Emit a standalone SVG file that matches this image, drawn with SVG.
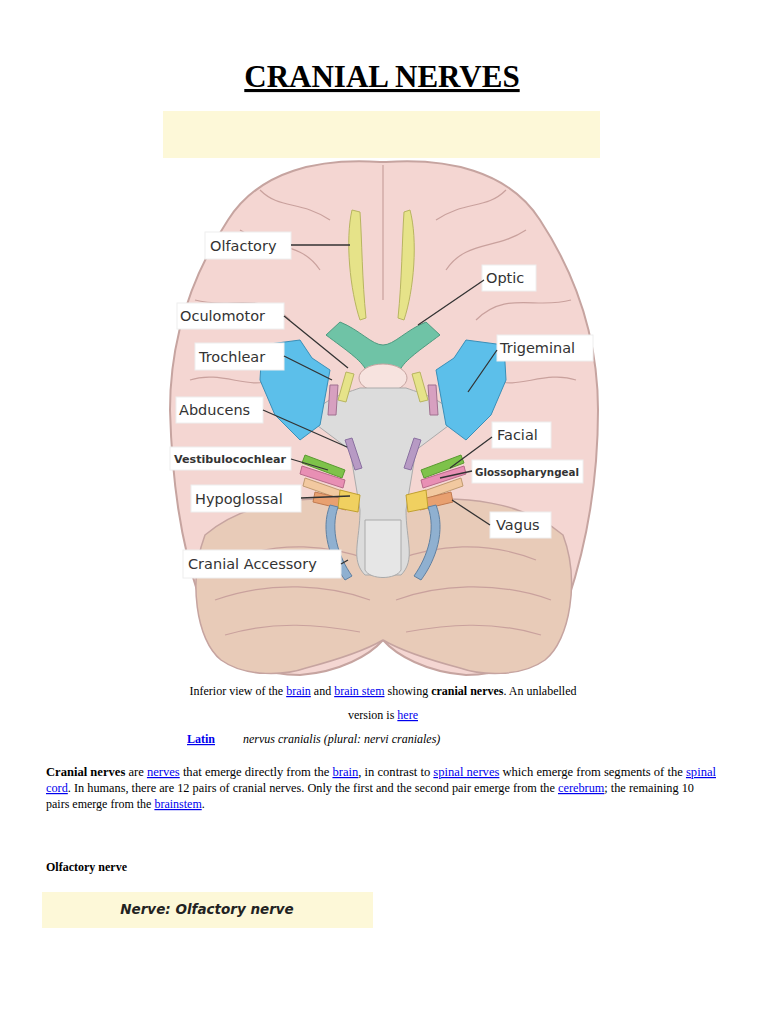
<svg xmlns="http://www.w3.org/2000/svg" width="768" height="1024" viewBox="0 0 768 1024">
<style>
.s{font-family:"Liberation Serif",serif;font-size:12px;fill:#000}
.a{fill:#0000ee;text-decoration:underline}
.lb{fill:#fff;stroke:#eee}
.lt{font-family:"DejaVu Sans","Noto Sans",sans-serif;font-size:14.5px;fill:#333}
.sm{font-size:10.5px;font-weight:bold}
.ln{stroke:#333;stroke-width:1.3;fill:none}
.g{stroke:#c9a19d;stroke-width:1.2;fill:none}
</style>
<rect width="768" height="1024" fill="#fff"/>
<text x="382" y="87" text-anchor="middle" font-family="Liberation Serif,serif" font-size="31" font-weight="bold" text-decoration="underline">CRANIAL NERVES</text>
<rect x="163" y="111" width="437" height="47" fill="#fdf8d8"/>
<g id="brain">
<path d="M380,162 C320,158 260,170 228,220 C192,275 170,340 170,410 C172,480 180,540 200,600 C220,650 250,675 300,675 C340,672 370,655 383,640 C396,655 426,672 466,675 C516,675 548,650 568,600 C588,540 598,480 598,410 C598,340 576,275 540,220 C508,170 446,158 386,162 Z" fill="#f4d6d2" stroke="#c6a4a0" stroke-width="2"/>
<path d="M205,535 C240,505 300,490 383,505 C466,490 528,505 563,535 C580,580 570,640 545,660 C520,678 480,675 460,668 C430,660 400,650 383,640 C366,650 336,660 306,668 C286,675 246,678 221,660 C196,640 188,580 205,535 Z" fill="#e8cbb8" stroke="#c6a4a0" stroke-width="1.5"/>
<path class="g" d="M383,165 L383,300 M230,560 C280,540 330,545 370,560 M536,560 C486,540 436,545 396,560 M215,600 C270,580 330,585 370,600 M551,600 C496,580 436,585 396,600 M225,635 C275,620 320,625 360,632 M541,635 C491,620 446,625 406,632 M240,230 C270,250 300,240 320,270 M526,230 C496,250 466,240 446,270 M195,300 C230,310 260,290 290,320 M571,300 C536,310 506,290 476,320 M190,380 C220,370 250,390 270,380 M576,380 C546,370 516,390 496,380 M260,190 C280,210 300,200 330,220 M506,190 C486,210 466,200 436,220"/>
<path d="M352,210 C345,240 350,290 360,320 L366,318 C362,280 362,240 360,212 Z M410,210 C418,240 414,290 404,320 L398,318 C402,280 402,240 404,212 Z" fill="#e6e389" stroke="#b8b560"/>
<path d="M340,322 C360,330 372,345 383,345 C394,345 406,330 426,322 L440,335 C420,350 405,360 400,370 L366,370 C361,360 346,350 326,335 Z" fill="#6fc3a6" stroke="#4f9a80"/>
<ellipse cx="383" cy="378" rx="24" ry="14" fill="#f7e3df" stroke="#c6a4a0"/>
<path d="M360,388 C340,395 320,400 310,420 L350,450 L360,510 C360,540 350,560 365,575 L401,575 C416,560 406,540 406,510 L416,450 L456,420 C446,400 426,395 406,388 Z" fill="#dcdcdc" stroke="#aaa"/>
<path d="M365,520 L365,570 C370,580 396,580 401,570 L401,520 Z" fill="#e6e6e6" stroke="#aaa"/>
<path d="M262,345 L300,340 L312,358 L330,370 L320,425 L300,440 L275,415 L260,380 Z" fill="#5cbfea" stroke="#3a8fb8"/>
<path d="M504,345 L466,340 L454,358 L436,370 L446,425 L466,440 L491,415 L506,380 Z" fill="#5cbfea" stroke="#3a8fb8"/>
<path d="M346,372 L338,400 L346,402 L354,374 Z M420,372 L428,400 L420,402 L412,374 Z" fill="#e6e389" stroke="#b8b560"/>
<path d="M330,385 L328,415 L336,415 L338,385 Z M436,385 L438,415 L430,415 L428,385 Z" fill="#d7a0c0" stroke="#a07090"/>
<path d="M345,440 L355,470 L362,468 L352,438 Z M421,440 L411,470 L404,468 L414,438 Z" fill="#b79ac4" stroke="#8a70a0"/>
<path d="M305,455 L345,470 L342,478 L302,463 Z M461,455 L421,470 L424,478 L464,463 Z" fill="#7ec24a" stroke="#5a9a30"/>
<path d="M302,466 L345,480 L343,488 L300,474 Z M464,466 L421,480 L423,488 L466,474 Z" fill="#e88fb4" stroke="#b86a8a"/>
<path d="M305,478 L345,492 L343,500 L303,486 Z M461,478 L421,492 L423,500 L463,486 Z" fill="#f2c9a0" stroke="#c09a70"/>
<path d="M315,492 L348,500 L346,510 L313,502 Z M451,492 L418,500 L420,510 L453,502 Z" fill="#e8a070" stroke="#c07a50"/>
<path d="M340,490 L360,495 L358,512 L338,508 Z M426,490 L406,495 L408,512 L428,508 Z" fill="#f0d060" stroke="#c0a030"/>
<path d="M330,505 C320,530 330,560 345,580 L352,576 C338,556 330,530 338,507 Z M436,505 C446,530 436,560 421,580 L414,576 C428,556 436,530 428,507 Z" fill="#8fb0d0" stroke="#6080a0"/>
</g>
<g id="labels">
<rect class="lb" x="205" y="232" width="86" height="27"/><text class="lt" x="210" y="251">Olfactory</text>
<rect class="lb" x="482" y="265" width="54" height="26"/><text class="lt" x="486" y="283">Optic</text>
<rect class="lb" x="177" y="303" width="107" height="26"/><text class="lt" x="180" y="321">Oculomotor</text>
<rect class="lb" x="195" y="343" width="89" height="27"/><text class="lt" x="199" y="362">Trochlear</text>
<rect class="lb" x="497" y="335" width="96" height="26"/><text class="lt" x="500" y="353">Trigeminal</text>
<rect class="lb" x="176" y="397" width="87" height="26"/><text class="lt" x="179" y="415">Abducens</text>
<rect class="lb" x="492" y="422" width="59" height="26"/><text class="lt" x="497" y="440">Facial</text>
<rect class="lb" x="170" y="447" width="121" height="23"/><text class="lt sm" x="174" y="463" textLength="112" lengthAdjust="spacingAndGlyphs">Vestibulocochlear</text>
<rect class="lb" x="472" y="460" width="111" height="23"/><text class="lt sm" x="475" y="476" textLength="104" lengthAdjust="spacingAndGlyphs">Glossopharyngeal</text>
<rect class="lb" x="191" y="485" width="110" height="27"/><text class="lt" x="195" y="504">Hypoglossal</text>
<rect class="lb" x="490" y="512" width="61" height="26"/><text class="lt" x="496" y="530">Vagus</text>
<rect class="lb" x="183" y="550" width="158" height="28"/><text class="lt" x="188" y="569">Cranial Accessory</text>
</g>
<g id="connectors">
<path class="ln" d="M291,245 L350,245 M484,280 L418,325 M284,316 L348,368 M284,356 L332,380 M497,350 L468,392 M263,410 L347,447 M492,437 L450,468 M291,459 L328,470 M472,471 L440,478 M301,498 L350,496 M490,525 L452,500 M341,564 L348,560"/>
</g>
<g id="text">
<text class="s" x="383" y="695" text-anchor="middle">Inferior view of the <tspan class="a">brain</tspan> and <tspan class="a">brain stem</tspan> showing <tspan font-weight="bold">cranial nerves</tspan>. An unlabelled</text>
<text class="s" x="383" y="719" text-anchor="middle">version is <tspan class="a">here</tspan></text>
<text class="s a" x="187" y="743" font-weight="bold">Latin</text>
<text class="s" x="243" y="743" font-style="italic">nervus cranialis (plural: nervi craniales)</text>
<text class="s" x="46" y="776" textLength="670" lengthAdjust="spacingAndGlyphs"><tspan font-weight="bold">Cranial nerves</tspan> are <tspan class="a">nerves</tspan> that emerge directly from the <tspan class="a">brain</tspan>, in contrast to <tspan class="a">spinal nerves</tspan> which emerge from segments of the <tspan class="a">spinal </tspan></text>
<text class="s" x="46" y="792" textLength="648" lengthAdjust="spacingAndGlyphs"><tspan class="a">cord</tspan>. In humans, there are 12 pairs of cranial nerves. Only the first and the second pair emerge from the <tspan class="a">cerebrum</tspan>; the remaining 10</text>
<text class="s" x="46" y="808">pairs emerge from the <tspan class="a">brainstem</tspan>.</text>
<text class="s" x="46" y="871" font-weight="bold">Olfactory nerve</text>
<rect x="42" y="892" width="331" height="36" fill="#fdf8d8"/>
<text x="207" y="914" text-anchor="middle" font-family="DejaVu Sans,sans-serif" font-size="13.5" font-weight="bold" font-style="italic" fill="#222">Nerve: Olfactory nerve</text>
</g>
</svg>
